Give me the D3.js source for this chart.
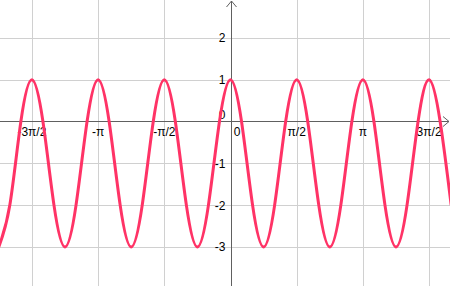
<!DOCTYPE html>
<html>
<head>
<meta charset="utf-8">
<script src="https://cdn.jsdelivr.net/npm/d3@7"></script>
<style>
  html, body { margin: 0; padding: 0; background: #fff; }
  svg { display: block; }
  .lbl { font-family: "Liberation Sans", Arial, sans-serif; font-size: 12px; fill: #000; }
</style>
</head>
<body>
<div id="chart"></div>
<script>
// x values are in units of pi
const xTicks = [-1.5, -1, -0.5, 0, 0.5, 1, 1.5];
const xTickLabels = ["-3π/2", "-π", "-π/2", "0", "π/2", "π", "3π/2"];
const yTicks = [-3, -2, -1, 1, 2];
const yGrid = [-3, -2, -1, 1, 2];

// curve samples every pi/12, from -21pi/12 to 20pi/12
const curveX = d3.range(-21, 21).map(k => k / 12);
const curveY = [
  -3, -2, 0, 1, 0, -2,
  -3, -2, 0, 1, 0, -2,
  -3, -2, 0, 1, 0, -2,
  -3, -2, 0, 1, 0, -2,
  -3, -2, 0, 1, 0, -2,
  -3, -2, 0, 1, 0, -2,
  -3, -2, 0, 1, 0, -2
];

const width = 450, height = 286;
const x0 = 230.5, y0 = 121.5, pxPi = 132.4, pxUnit = 41.8;

const x = d3.scaleLinear().domain([-x0 / pxPi, (width - x0) / pxPi]).range([0, width]);
const y = d3.scaleLinear().domain([y0 / pxUnit, -(height - y0) / pxUnit]).range([0, height]);

const svg = d3.select("#chart").append("svg")
  .attr("width", width).attr("height", height);

// grid
svg.append("g").selectAll("line.v")
  .data(xTicks.filter(d => d !== 0))
  .enter().append("line")
  .attr("x1", d => Math.round(x(d)) + 0.5).attr("x2", d => Math.round(x(d)) + 0.5)
  .attr("y1", 0).attr("y2", height)
  .attr("stroke", "#d0d0d0").attr("stroke-width", 1);

svg.append("g").selectAll("line.h")
  .data(yGrid)
  .enter().append("line")
  .attr("y1", d => Math.round(y(d)) + 0.5).attr("y2", d => Math.round(y(d)) + 0.5)
  .attr("x1", 0).attr("x2", width)
  .attr("stroke", "#d0d0d0").attr("stroke-width", 1);

// axes
const ax = Math.round(x(0)) + 0.5, ay = Math.round(y(0)) + 0.5;
const axes = svg.append("g").attr("stroke", "#606060").attr("stroke-width", 1).attr("fill", "none");
axes.append("line").attr("x1", 0).attr("x2", width - 1).attr("y1", ay).attr("y2", ay);
axes.append("line").attr("x1", ax).attr("x2", ax).attr("y1", 1).attr("y2", height);
axes.append("path").attr("d", `M${width - 7},${ay - 5}L${width - 1},${ay}L${width - 7},${ay + 5}`);
axes.append("path").attr("d", `M${ax - 5},7L${ax},1L${ax + 5},7`);

// x labels
svg.append("g").selectAll("text")
  .data(xTicks)
  .enter().append("text")
  .attr("class", "lbl")
  .attr("x", d => d === 0 ? x(d) + 6.5 : x(d))
  .attr("y", ay + 14.5)
  .attr("text-anchor", "middle")
  .text((d, i) => xTickLabels[i]);

// y labels
svg.append("g").selectAll("text")
  .data(yTicks)
  .enter().append("text")
  .attr("class", "lbl")
  .attr("x", ax - 6)
  .attr("y", d => y(d) + 4.5)
  .attr("text-anchor", "end")
  .text(d => d);

// origin label
svg.append("text").attr("class", "lbl")
  .attr("x", ax - 6).attr("y", ay - 3)
  .attr("text-anchor", "end").text("0");

// curve
const line = d3.line()
  .x((d, i) => x(curveX[i]))
  .y(d => y(d))
  .curve(d3.curveNatural);

svg.append("path")
  .datum(curveY)
  .attr("d", line)
  .attr("fill", "none")
  .attr("stroke", "#ff3366")
  .attr("stroke-width", 3)
  .attr("stroke-linejoin", "round");
</script>
</body>
</html>
